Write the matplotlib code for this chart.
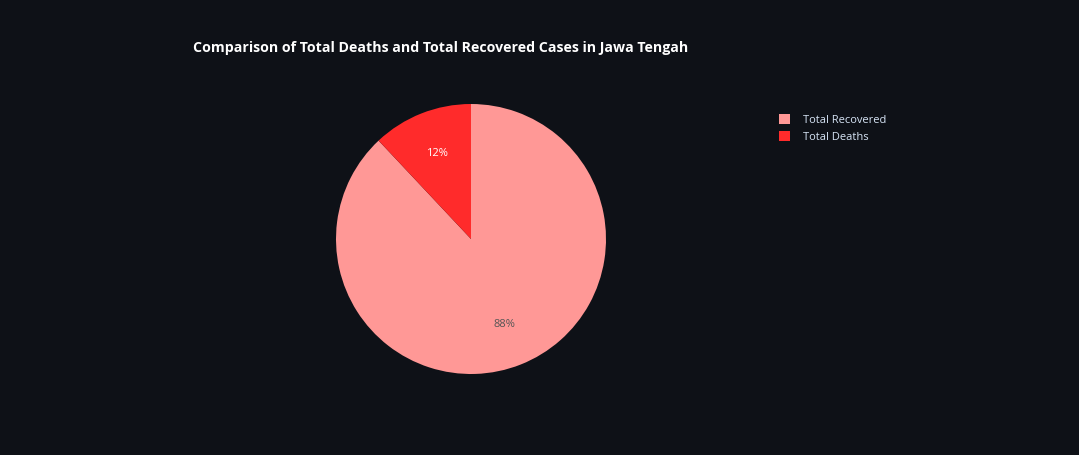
import matplotlib.pyplot as plt

labels = ["Total Recovered", "Total Deaths"]
values = [88, 12]
colors = ["#FF9896", "#FF2B2B"]
pct_colors = ["#555555", "#FFFFFF"]

BG = "#0E1117"
plt.rcParams['font.family'] = ['Open Sans', 'DejaVu Sans']

fig = plt.figure(figsize=(10.79, 4.55), dpi=100, facecolor=BG)
# pie centre ~ (471, 239), radius ~135 px
ax = fig.add_axes([(471 - 135) / 1079, 1 - (239 + 135) / 455, 270 / 1079, 270 / 455])
ax.set_facecolor(BG)
wedges, texts, autotexts = ax.pie(values, colors=colors, startangle=90, counterclock=False,
                                  autopct='%1.0f%%', pctdistance=0.68,
                                  textprops={'fontsize': 8})
for t, c in zip(autotexts, pct_colors):
    t.set_color(c)
ax.set_xlim(-1, 1)
ax.set_ylim(-1, 1)
ax.set_aspect('equal')

fig.text(193 / 1079, 1 - 48 / 455, "Comparison of Total Deaths and Total Recovered Cases in Jawa Tengah",
         color='white', fontsize=10.2, fontweight='bold', va='center', ha='left')

fig.legend(wedges, labels, loc='upper left', bbox_to_anchor=(769 / 1079, 1 - 104 / 455),
           frameon=False, fontsize=8, labelcolor='#D6E4F5', handlelength=1.0, handleheight=1.0,
           handletextpad=1.2, labelspacing=0.5)

fig.savefig("out.png", facecolor=BG)
